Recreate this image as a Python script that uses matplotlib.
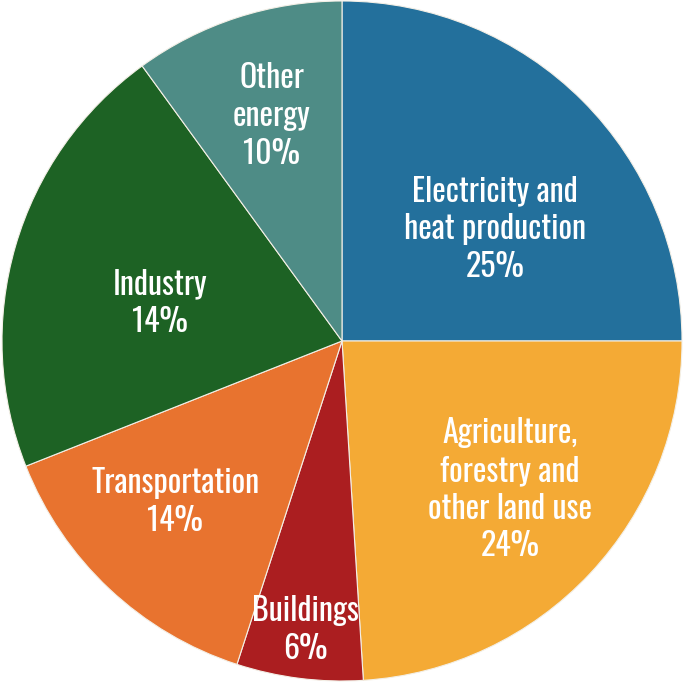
import matplotlib
matplotlib.use("Agg")
import matplotlib.pyplot as plt

# sectors, clockwise from 12 o'clock
sectors = ["Electricity and\nheat production", "Agriculture,\nforestry and\nother land use",
           "Buildings", "Transportation", "Industry", "Other\nenergy"]
# wedge sizes
shares = [25, 24, 6, 14, 21, 10]
# percentages as printed on the chart
pct_labels = ["25%", "24%", "6%", "14%", "14%", "10%"]

COLORS = ["#23709c", "#f4aa35", "#ab1e20", "#e8732f", "#1d6224", "#4e8c86"]
LABEL_POS = [(0.45, 0.33), (0.494, -0.438), (-0.109, -0.85),
             (-0.49, -0.474), (-0.535, 0.112), (-0.206, 0.662)]

fig = plt.figure(figsize=(6.85, 6.82), dpi=100)
ax = fig.add_axes([0, 0, 1, 1])
ax.pie(shares, colors=COLORS, startangle=90, counterclock=False, radius=1.0,
       wedgeprops=dict(edgecolor="#f3efe6", linewidth=0.8))
ax.set_aspect("auto")
ax.set_xlim(-342 / 340, (685 - 342) / 340)
ax.set_ylim(-(682 - 341) / 340, 341 / 340)
ax.axis("off")

for name, pct, (x, y) in zip(sectors, pct_labels, LABEL_POS):
    ax.text(x, y, f"{name}\n{pct}", ha="center", va="center", color="white",
            fontsize=23, family=["Oswald", "DejaVu Sans"], weight="light",
            linespacing=1.22)

fig.savefig("out.png", dpi=100)
